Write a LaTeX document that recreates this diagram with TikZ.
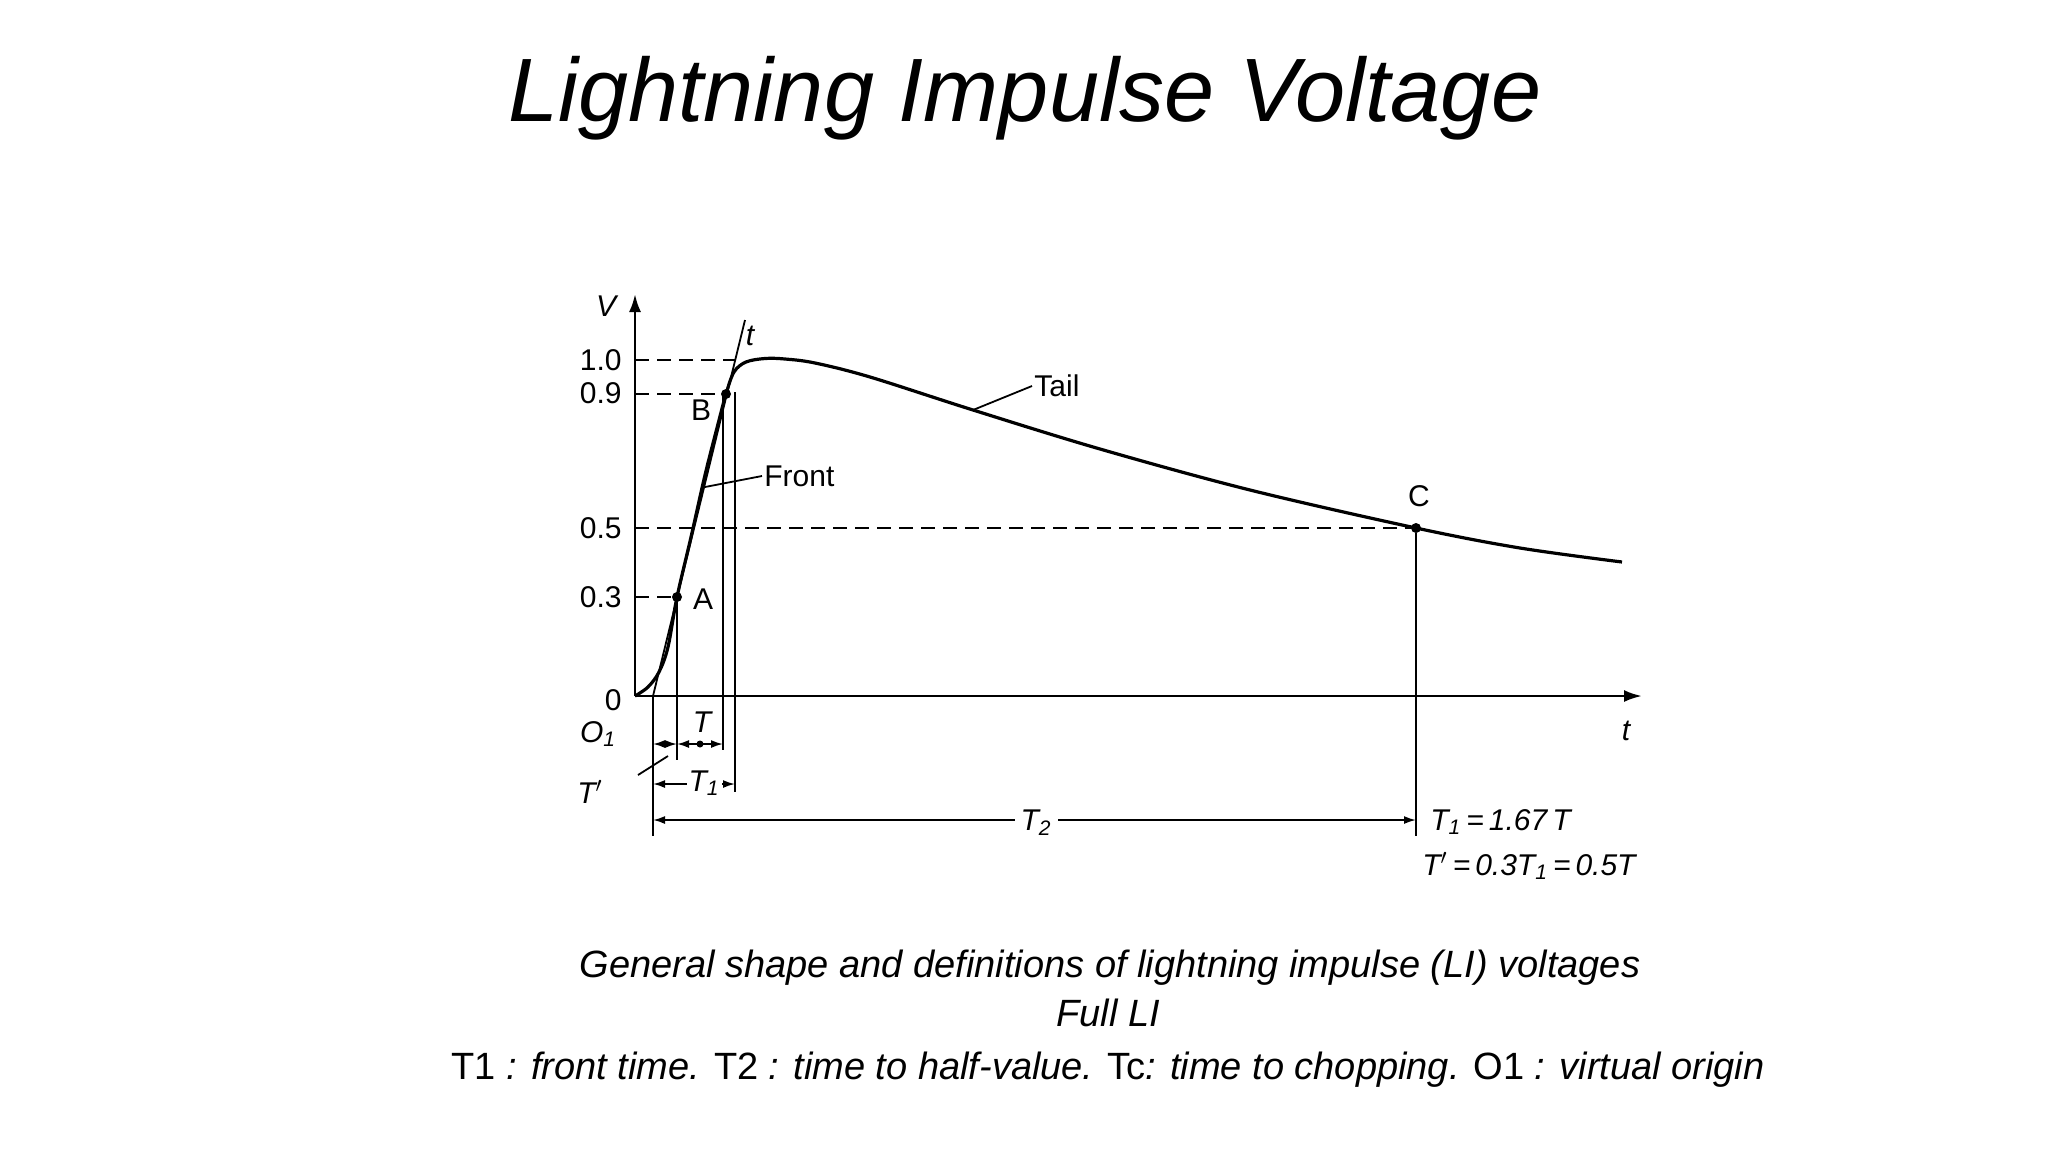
\documentclass[tikz,border=0pt]{standalone}
\usepackage{fontspec}
\setmainfont{Liberation Sans}
\usetikzlibrary{arrows.meta}
\tikzset{
 ax/.style={line width=1.3pt,-{Latex[length=9pt,width=6pt]}},
 thin/.style={line width=0.9pt},
 dsh/.style={line width=0.9pt,dash pattern=on 7pt off 4pt},
 dim/.style={line width=0.9pt,{Latex[length=6pt,width=4pt]}-{Latex[length=6pt,width=4pt]}},
 lab/.style={font=\fontsize{15}{17}\selectfont,inner sep=1pt},
 ilab/.style={font=\fontsize{15}{17}\selectfont\itshape,inner sep=1pt},
 dot/.style={circle,fill,inner sep=0pt,minimum size=5pt},
}
\begin{document}
\begin{tikzpicture}[x=0.5pt,y=-0.5pt]
\useasboundingbox (0,0) rectangle (2048,1152);
\node[font=\fontsize{45}{50}\selectfont\itshape] (title) at (1025,98) {Lightning Impulse Voltage};
% axes
\coordinate (o) at (635,696);
\coordinate (ytop) at (635,294);
\coordinate (xend) at (1642,696);
\draw[ax] (o) -- (ytop);
\draw[ax] (o) -- (xend);
\node[ilab] (V) at (606,306) {V};
\node[ilab] (tx) at (1626,731) {t};
\node[lab,anchor=east] (l10) at (624,360) {1.0};
\node[lab,anchor=east] (l09) at (624,393) {0.9};
\node[lab,anchor=east] (l05) at (624,528) {0.5};
\node[lab,anchor=east] (l03) at (624,597) {0.3};
\node[lab,anchor=east] (l0) at (624,700) {0};
% points
\coordinate (O1) at (653,696);
\node[dot] (A) at (677,597) {};
\node[dot] (B) at (726,394) {};
\node[dot] (C) at (1416,528) {};
\coordinate (P) at (735,360);
\coordinate (ttop) at (745,320);
\node[lab] (Al) at (703,599) {A};
\node[lab] (Bl) at (701,410) {B};
\node[lab] (Cl) at (1419,496) {C};
\node[ilab] (tl) at (750,336) {t};
% dashed
\draw[dsh] (635,360) -- (P);
\draw[dsh] (635,394) -- (B);
\draw[dsh] (635,528) -- (C);
\draw[dsh] (635,597) -- (A);
% tangent
\draw[thin] (O1) -- (ttop);
% curve
\draw[line width=1.6pt] plot[smooth,tension=0.55] coordinates {(635,696) (648,687) (659,672) (668,647) (677,597) (691,537) (705,475) (718,424) (726,394) (734,372) (746,362) (765,358.5) (785,359) (815,363) (870,377) (973,410) (1100,449) (1250,490) (1416,528) (1520,548) (1622,562)};
% verticals
\coordinate (O1b) at (653,836);
\coordinate (Ab) at (677,760);
\coordinate (Bb) at (723,750);
\coordinate (Pb) at (735,792);
\coordinate (Cb) at (1416,836);
\draw[thin] (O1) -- (O1b);
\draw[thin] (A) -- (Ab);
\draw[thin] (723,394) -- (Bb);
\draw[thin] (735,392) -- (Pb);
\draw[thin] (C) -- (Cb);
% dimensions
\draw[dim] (653,744) -- (677,744);
\draw[dim] (677,744) -- (723,744);
\node[dot,minimum size=3.5pt] (Tm) at (700,744) {};
\node[ilab] (Tl) at (702,722) {T};
\draw[dim] (653,784) -- (735,784);
\node[ilab,fill=white] (T1l) at (704,783) {T\textsubscript{1}};
\draw[dim] (653,820) -- (1416,820);
\node[ilab,fill=white,inner sep=3pt] (T2l) at (1036,823) {T\textsubscript{2}};
\node[ilab] (O1l) at (598,734) {O\textsubscript{1}};
\node[ilab] (Tpl) at (590,792) {T$'$};
\draw[thin] (638,775) -- (668,756);
% front/tail
\node[lab,anchor=west] (Fr) at (762,476) {Front};
\draw[thin] (705,487) -- (Fr.west);
\node[lab,anchor=west] (Ta) at (1032,386) {Tail};
\draw[thin] (973,410) -- (Ta.west);
% formulas
\node[ilab,anchor=west] (f1) at (1428,822) {T\textsubscript{1}\,=\,1.67\,T};
\node[ilab,anchor=west] (f2) at (1420,866) {T$'$\,=\,0.3T\textsubscript{1}\,=\,0.5T};
% caption
\node[font=\fontsize{19}{22}\selectfont\itshape] (c1) at (1110,968) {General shape and definitions of lightning impulse (LI) voltages};
\node[font=\fontsize{19}{22}\selectfont\itshape] (c2) at (1108,1013) {Full LI};
\node[font=\fontsize{19}{22}\selectfont\itshape] (c3) at (1108,1070) {\upshape T1\itshape{} : front time. \upshape T2\itshape{} : time to half-value. \upshape Tc\itshape: time to chopping. \upshape O1\itshape{} : virtual origin};
\end{tikzpicture}
\end{document}
